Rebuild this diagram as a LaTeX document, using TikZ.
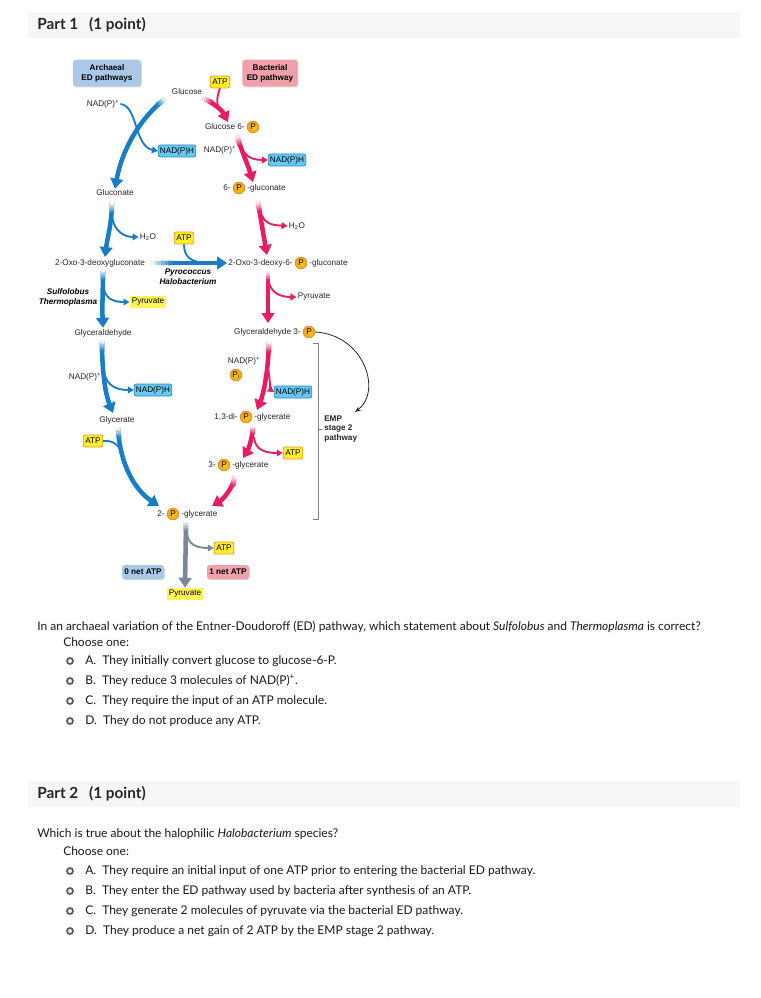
\documentclass[tikz,border=0pt]{standalone}
\usepackage{fontspec}
\setmainfont{Lato}
\newfontfamily\dg{Liberation Sans}
\usetikzlibrary{arrows.meta,positioning,shadows,calc}
\definecolor{bl}{RGB}{24,125,196}
\definecolor{pk}{RGB}{232,28,100}
\definecolor{gy}{RGB}{122,136,150}
\definecolor{atpY}{RGB}{255,240,40}
\definecolor{atpO}{RGB}{240,150,40}
\definecolor{nadF}{RGB}{105,200,240}
\definecolor{nadD}{RGB}{30,140,200}
\definecolor{archF}{RGB}{170,200,232}
\definecolor{bactF}{RGB}{240,160,170}
\definecolor{pyrY}{RGB}{255,245,90}
\definecolor{barG}{RGB}{246,246,246}
\definecolor{pO}{RGB}{245,160,30}
\newcommand\dfs{\dg\fontsize{6.15}{7.5}\selectfont}
\newcommand\qfs{\fontsize{9}{11}\selectfont}
\newcommand\hfs{\bfseries\fontsize{11.5}{13}\selectfont}
% fade the start of a thick arrow: #1 start, #2 end of fade, #3 colour
\newcommand\fadestart[3]{%
  \foreach \k in {0,...,5}{%
    \pgfmathsetmacro\fa{\k/6}%
    \pgfmathsetmacro\fb{(\k+1.15)/6}%
    \pgfmathtruncatemacro\fc{6+\k*17}%
    \draw[line width=3.6pt, draw=#3!\fc] ($(#1)!\fa!(#2)$) -- ($(#1)!\fb!(#2)$);
  }%
}
\begin{document}
\begin{tikzpicture}[x=0.75pt,y=-0.75pt,
  lbl/.style={font=\dfs, inner sep=0.8pt, text=black!85},
  atpb/.style={font=\dfs, draw=atpO, fill=atpY, rounded corners=1.5pt, line width=0.6pt, inner xsep=1.6pt, inner ysep=0pt, minimum height=9pt},
  nadb/.style={font=\dfs, draw=nadD, fill=nadF, rounded corners=1.5pt, line width=0.6pt, inner xsep=1.2pt, inner ysep=0pt, minimum height=9pt},
  pc/.style={circle, inner sep=0pt, minimum size=9pt, draw=pO!80!black, line width=0.3pt, shading=radial, inner color=yellow!60!orange, outer color=pO, font=\dfs},
  pyrb/.style={font=\dfs, fill=pyrY, inner xsep=1.5pt, inner ysep=0pt, minimum height=9pt},
  hdr/.style={font=\dfs\bfseries, align=center, rounded corners=2pt, minimum height=19.5pt, drop shadow={shadow xshift=0.6pt, shadow yshift=-0.8pt, opacity=0.3}},
  netb/.style={font=\dfs\bfseries, rounded corners=2pt, minimum width=31.5pt, minimum height=10.5pt, inner sep=0pt, drop shadow={shadow xshift=0.6pt, shadow yshift=-0.8pt, opacity=0.3}},
  spec/.style={font=\dg\bfseries\itshape\fontsize{6.15}{7.5}\selectfont, align=center, inner sep=0pt},
  thickB/.style={draw=bl, line width=3.4pt, -{Triangle[length=7.5pt,width=9.5pt]}},
  thinB/.style={draw=bl, line width=1.4pt, -{Triangle[length=4.5pt,width=5pt]}},
  thickP/.style={draw=pk, line width=3.4pt, -{Triangle[length=7.5pt,width=9.5pt]}},
  thinP/.style={draw=pk, line width=1.4pt, -{Triangle[length=4.5pt,width=5pt]}},
  thickG/.style={draw=gy, line width=3.4pt, -{Triangle[length=7.5pt,width=9.5pt]}},
  thinG/.style={draw=gy, line width=1.4pt, -{Triangle[length=4.5pt,width=5pt]}},
  bul/.style={circle, draw=black!65, line width=1.3pt, fill=white, inner sep=0pt, minimum size=4.5pt},
  qtxt/.style={font=\qfs, anchor=base west, inner sep=0pt, text=black!90}
]
\useasboundingbox[fill=white] (0,0) rectangle (760,998);
% header bars
\fill[barG] (28,12) rectangle (740,38);
\node[font=\hfs, anchor=west, inner sep=0pt, text=black!85] (part1) at (37,25) {Part 1\hspace{0.7em}(1 point)};
\fill[barG] (28,781) rectangle (740,807);
\node[font=\hfs, anchor=west, inner sep=0pt, text=black!85] (part2) at (37,794) {Part 2\hspace{0.7em}(1 point)};

% ---------- diagram nodes ----------
\node[hdr, fill=archF, minimum width=51pt] (arch) at (107,73) {Archaeal\\ED pathways};
\node[hdr, fill=bactF, minimum width=40.5pt] (bact) at (270,73) {Bacterial\\ED pathway};
\node[atpb] (atpT) at (220,82) {ATP};
\node[lbl] (gluc) at (187,92) {Glucose};
\node[lbl] (nadpA) at (103,104) {NAD(P)\textsuperscript{+}};
\node[nadb] (nadhA) at (177,151) {NAD(P)H};
\node[pc] (pG6) at (253,127) {P};
\node[lbl, anchor=east] (g6) at (246,127) {Glucose 6-};
\node[lbl] (nadpB) at (220,150) {NAD(P)\textsuperscript{+}};
\node[nadb] (nadhB) at (287,160) {NAD(P)H};
\node[pc] (p6g) at (239,188) {P};
\node[lbl, anchor=east] (sixpre) at (232,188) {6-};
\node[lbl, anchor=west] (sixgl) at (246,188) {-gluconate};
\node[lbl] (gluconate) at (115,193) {Gluconate};
\node[lbl] (h2oA) at (148,237) {H\textsubscript{2}O};
\node[atpb] (atpM) at (184,238) {ATP};
\node[lbl] (h2oB) at (297,226) {H\textsubscript{2}O};
\node[lbl] (oxoA) at (100,263) {2-Oxo-3-deoxygluconate};
\node[pc] (pOxo) at (301,263) {P};
\node[lbl, anchor=east] (oxoB) at (294,263) {2-Oxo-3-deoxy-6-};
\node[lbl, anchor=west] (oxoBg) at (308,263) {-gluconate};
\node[spec] (pyro) at (188,277) {Pyrococcus\\Halobacterium};
\node[spec] (sulfo) at (68,297) {Sulfolobus\\Thermoplasma};
\node[pyrb] (pyrA) at (148,302) {Pyruvate};
\node[lbl] (pyrB) at (314,297) {Pyruvate};
\node[lbl] (glyald) at (103,333) {Glyceraldehyde};
\node[pc] (pG3) at (309,332) {P};
\node[lbl, anchor=east] (g3) at (302,332) {Glyceraldehyde 3-};
\node[lbl] (nadpC) at (85,377) {NAD(P)\textsuperscript{+}};
\node[nadb] (nadhC) at (153,390) {NAD(P)H};
\node[lbl] (nadpD) at (244,361) {NAD(P)\textsuperscript{+}};
\node[pc] (pi) at (236,375) {P\textsubscript{i}};
\node[nadb] (nadhD) at (293,392) {NAD(P)H};
\node[lbl] (glycerate) at (117,420) {Glycerate};
\node[pc] (pBPG) at (246,417) {P};
\node[lbl, anchor=east] (bpg) at (239,417) {1,3-di-};
\node[lbl, anchor=west] (bpgg) at (253,417) {-glycerate};
\node[atpb] (atpL) at (93,441) {ATP};
\node[atpb] (atpR) at (293,453) {ATP};
\node[pc] (p3PG) at (224,465) {P};
\node[lbl, anchor=east] (pg3) at (217,465) {3-};
\node[lbl, anchor=west] (pg3g) at (231,465) {-glycerate};
\node[pc] (p2PG) at (173,514) {P};
\node[lbl, anchor=east] (pg2) at (166,514) {2-};
\node[lbl, anchor=west] (pg2g) at (180,514) {-glycerate};
\node[atpb] (atpB) at (224,548) {ATP};
\node[netb, fill=archF] (net0) at (143,572) {0 net ATP};
\node[netb, fill=bactF] (net1) at (228,572) {1 net ATP};
\node[pyrb] (pyrC) at (185,594) {Pyruvate};
\node[font=\dg\bfseries\fontsize{6.15}{7.2}\selectfont, align=left, anchor=west, inner sep=0pt, text=black!85] (emp) at (324,429) {EMP\\stage 2\\pathway};

% ---------- coordinates (free ends / branch points) ----------
\coordinate (s1) at (165,99);   \coordinate (f1) at (157,105);
\coordinate (s2) at (112,203);  \coordinate (f2) at (112,213);
\coordinate (t2) at (105,257);
\coordinate (j2) at (112,216);
\coordinate (s3) at (150,263);  \coordinate (f3) at (172,263);
\coordinate (jm) at (205,263);
\coordinate (s4) at (103,270);  \coordinate (f4) at (103,280);
\coordinate (j3) at (103,284);
\coordinate (s6) at (102,341);  \coordinate (f6) at (102,351);
\coordinate (t6) at (113,413);
\coordinate (j4) at (104,372);
\coordinate (s5) at (118,428);  \coordinate (f5) at (119,438);
\coordinate (j5) at (122,455);
\coordinate (t5) at (159,506);
\coordinate (ps1) at (203,98);  \coordinate (pf1) at (212,102.5); \coordinate (pt1) at (228,122);
\coordinate (pj1) at (219,109);
\coordinate (ps2) at (237,136); \coordinate (pf2) at (240,145.5); \coordinate (pt2) at (253,182);
\coordinate (pj2) at (245,153);
\coordinate (ps3) at (258,202); \coordinate (pf3) at (259.6,211.5); \coordinate (pt3) at (267,255);
\coordinate (pj3) at (262,215);
\coordinate (ps4) at (268,272); \coordinate (pf4) at (268,281); \coordinate (pt4) at (268,323);
\coordinate (pj4) at (269,283);
\coordinate (ps5) at (269,342); \coordinate (pf5) at (269,352); \coordinate (pt5) at (257,410);
\coordinate (pj5) at (268,368);
\coordinate (ps6) at (253,427); \coordinate (pf6) at (252.6,434); \coordinate (pt6) at (243,458);
\coordinate (pj6) at (254,437);
\coordinate (ps7) at (235,477); \coordinate (pf7) at (233,486); \coordinate (pt7) at (212,506);
\coordinate (gs) at (186,522);  \coordinate (gf) at (186,531);
\coordinate (gj) at (187,533);
\coordinate (empT) at (355,412);

% ---------- blue (archaeal) arrows ----------
\draw[thickB] (s1) .. controls (140,118) and (122,150) .. (gluconate.north);
\draw[thinB] (nadpA.east) .. controls (138,106) and (134,146) .. (nadhA.west);
\draw[thickB] (s2) .. controls (112,222) and (107,240) .. (t2);
\draw[thinB] (j2) .. controls (114,232) and (125,237) .. (h2oA.west);
\draw[thickB] (s3) -- (oxoB.west);
\draw[draw=bl, line width=1.4pt] (atpM.south) .. controls (184,256) and (190,262) .. (jm);
\draw[thickB] (s4) .. controls (103,290) and (102,305) .. (glyald.north);
\draw[thinB] (j3) .. controls (104,298) and (112,302) .. (pyrA.west);
\draw[thickB] (s6) .. controls (102,380) and (107,398) .. (t6);
\draw[thinB] (j4) .. controls (107,387) and (118,390) .. (nadhC.west);
\draw[thickB] (s5) .. controls (120,465) and (135,490) .. (t5);
\draw[draw=bl, line width=1.4pt] (atpL.east) .. controls (114,440) and (120,446) .. (j5);
\fadestart{s1}{f1}{bl}
\fadestart{s2}{f2}{bl}
\fadestart{s3}{f3}{bl}
\fadestart{s4}{f4}{bl}
\fadestart{s6}{f6}{bl}
\fadestart{s5}{f5}{bl}

% ---------- pink (bacterial) arrows ----------
\draw[thickP] (ps1) .. controls (213,103) and (222,110) .. (pt1);
\draw[draw=pk, line width=1.4pt] (atpT.south) .. controls (216,99) and (217,105) .. (pj1);
\draw[thickP] (ps2) .. controls (242,152) and (248,165) .. (pt2);
\draw[thinP] (pj2) .. controls (248,158) and (255,160) .. (nadhB.west);
\draw[thickP] (ps3) .. controls (261,220) and (264,238) .. (pt3);
\draw[thinP] (pj3) .. controls (265,224) and (272,225) .. (h2oB.west);
\draw[thickP] (ps4) -- (pt4);
\draw[thinP] (pj4) .. controls (272,294) and (282,297) .. (pyrB.west);
\draw[thickP] (ps5) .. controls (268,375) and (263,395) .. (pt5);
\draw[thinP] (pj5) .. controls (270,382) and (271,390) .. (nadhD.west);
\draw[thickP] (ps6) .. controls (252,440) and (248,450) .. (pt6);
\draw[thinP] (pj6) .. controls (255,450) and (265,453) .. (atpR.west);
\draw[thickP] (ps7) .. controls (232,490) and (222,500) .. (pt7);
\fadestart{ps1}{pf1}{pk}
\fadestart{ps2}{pf2}{pk}
\fadestart{ps3}{pf3}{pk}
\fadestart{ps4}{pf4}{pk}
\fadestart{ps5}{pf5}{pk}
\fadestart{ps6}{pf6}{pk}
\fadestart{ps7}{pf7}{pk}

% ---------- grey arrows ----------
\draw[thickG] (gs) -- (pyrC.north);
\draw[thinG] (gj) .. controls (188,545) and (197,548) .. (atpB.west);
\fadestart{gs}{gf}{gy}

% ---------- EMP bracket and arrow ----------
\draw[black!85, line width=0.6pt, -{Stealth[length=4.5pt,width=3.5pt]}] (pG3.east) .. controls (365,335) and (382,392) .. (empT);
\draw[gray, line width=0.6pt] (313,343) -- (318,343) -- (318,519) -- (313,519);
\draw[gray, line width=0.6pt] (318,429) -- (322,429);

% ---------- question 1 ----------
\node[qtxt] (q1) at (37,630) {In an archaeal variation of the Entner-Doudoroff (ED) pathway, which statement about \textit{Sulfolobus} and \textit{Thermoplasma} is correct?};
\node[qtxt] (c1) at (63,646) {Choose one:};
\node[bul] (b1a) at (70,661) {}; \node[qtxt] (o1a) at (85,664.5) {A.\ \ They initially convert glucose to glucose-6-P.};
\node[bul] (b1b) at (70,681) {}; \node[qtxt] (o1b) at (85,684.5) {B.\ \ They reduce 3 molecules of NAD(P)\textsuperscript{+}.};
\node[bul] (b1c) at (70,701) {}; \node[qtxt] (o1c) at (85,704.5) {C.\ \ They require the input of an ATP molecule.};
\node[bul] (b1d) at (70,721) {}; \node[qtxt] (o1d) at (85,724.5) {D.\ \ They do not produce any ATP.};

% ---------- question 2 ----------
\node[qtxt] (q2) at (37,837) {Which is true about the halophilic \textit{Halobacterium} species?};
\node[qtxt] (c2) at (63,855) {Choose one:};
\node[bul] (b2a) at (70,871) {}; \node[qtxt] (o2a) at (85,874.5) {A.\ \ They require an initial input of one ATP prior to entering the bacterial ED pathway.};
\node[bul] (b2b) at (70,891) {}; \node[qtxt] (o2b) at (85,894.5) {B.\ \ They enter the ED pathway used by bacteria after synthesis of an ATP.};
\node[bul] (b2c) at (70,911) {}; \node[qtxt] (o2c) at (85,914.5) {C.\ \ They generate 2 molecules of pyruvate via the bacterial ED pathway.};
\node[bul] (b2d) at (70,931) {}; \node[qtxt] (o2d) at (85,934.5) {D.\ \ They produce a net gain of 2 ATP by the EMP stage 2 pathway.};
\end{tikzpicture}
\end{document}
